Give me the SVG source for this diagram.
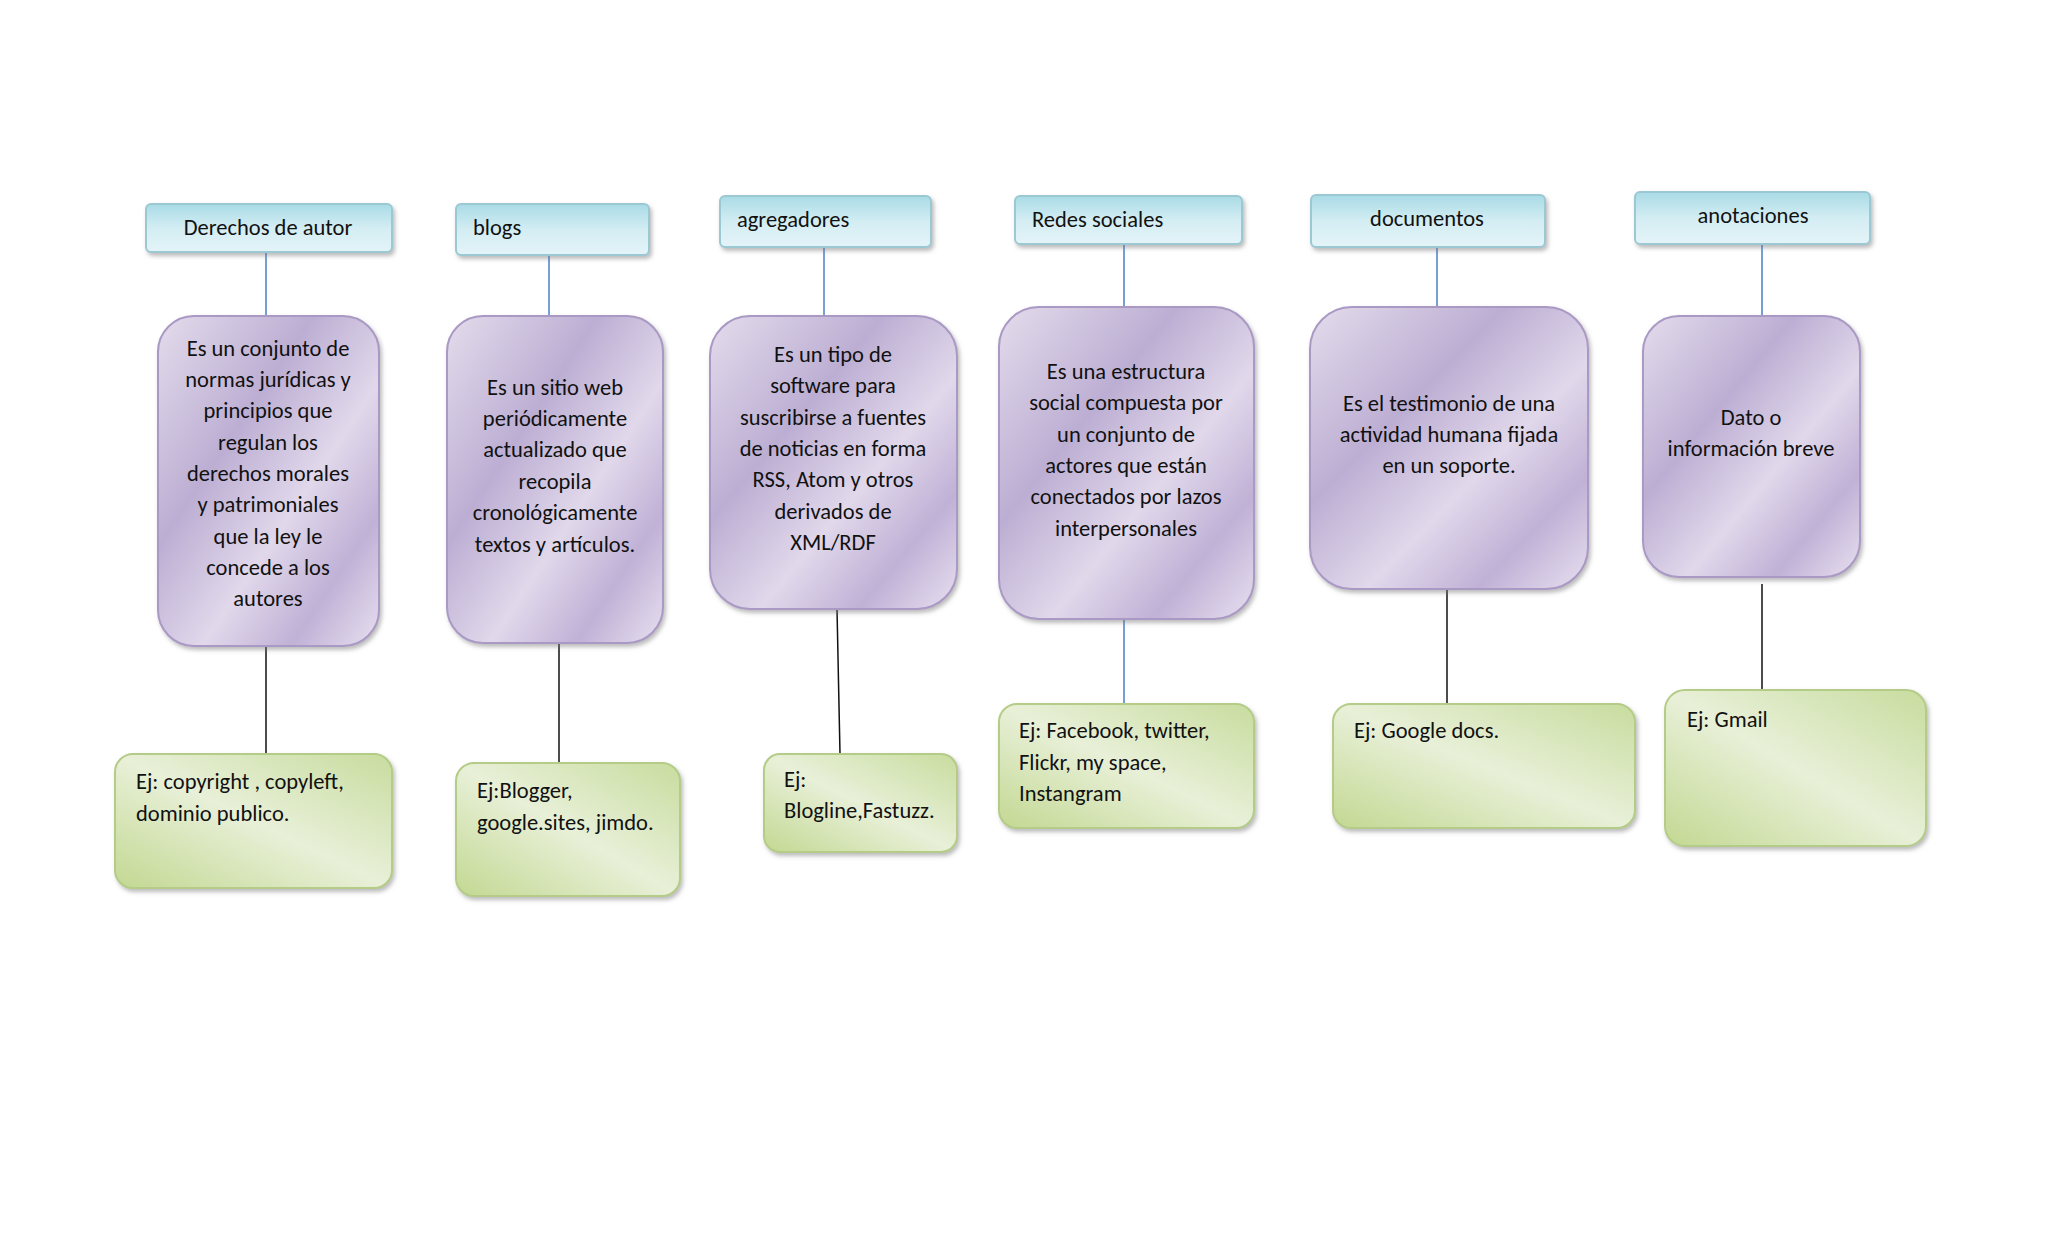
<svg xmlns="http://www.w3.org/2000/svg" width="2048" height="1243" viewBox="0 0 2048 1243">
<defs>
<linearGradient id="gH" x1="0" y1="0" x2="0" y2="1"><stop offset="0" stop-color="#a9dbe6"/><stop offset="0.5" stop-color="#d3edf3"/><stop offset="1" stop-color="#e4f4f8"/></linearGradient>
<linearGradient id="gP" x1="0" y1="0" x2="1" y2="1"><stop offset="0" stop-color="#e4dcec"/><stop offset="0.35" stop-color="#bcaed3"/><stop offset="0.6" stop-color="#e1d8eb"/><stop offset="0.8" stop-color="#c0b1d6"/><stop offset="1" stop-color="#e8e0f0"/></linearGradient>
<linearGradient id="gG" x1="0" y1="1" x2="1" y2="0"><stop offset="0" stop-color="#c3d892"/><stop offset="0.5" stop-color="#e8f0d8"/><stop offset="1" stop-color="#c8dc9e"/></linearGradient>
<filter id="sh" x="-10%" y="-10%" width="125%" height="125%"><feDropShadow dx="2" dy="3" stdDeviation="2" flood-color="#777" flood-opacity="0.5"/></filter>
</defs>
<style>
.h{fill:url(#gH);stroke:#9cc8d4;stroke-width:2;filter:url(#sh)}
.p{fill:url(#gP);stroke:#a999c4;stroke-width:2;filter:url(#sh)}
.g{fill:url(#gG);stroke:#b5cc88;stroke-width:2;filter:url(#sh)}
text{font-family:Carlito,"Open Sans","Liberation Sans",sans-serif;font-size:22.5px;fill:#111}
.c{text-anchor:middle}
.bl{stroke:#4a7fc8;stroke-width:1.5}
.bk{stroke:#111;stroke-width:1.5}
</style>
<rect width="2048" height="1243" fill="#fff"/>
<g id="connectors">
<line class="bl" x1="266" y1="252" x2="266" y2="326"/>
<line class="bl" x1="549" y1="255" x2="549" y2="322"/>
<line class="bl" x1="824" y1="247" x2="824" y2="318"/>
<line class="bl" x1="1124" y1="244" x2="1124" y2="318"/>
<line class="bl" x1="1437" y1="247" x2="1437" y2="318"/>
<line class="bl" x1="1762" y1="244" x2="1762" y2="316"/>
<line class="bk" x1="266" y1="646" x2="266" y2="754"/>
<line class="bk" x1="559" y1="643" x2="559" y2="763"/>
<line class="bk" x1="837" y1="609" x2="840" y2="754"/>
<line class="bl" x1="1124" y1="619" x2="1124" y2="704"/>
<line class="bk" x1="1447" y1="589" x2="1447" y2="704"/>
<line class="bk" x1="1762" y1="584" x2="1762" y2="690"/>
</g>
<g id="h1"><rect class="h" x="146" y="204" width="246" height="48" rx="5"/><text class="c" x="268" y="235">Derechos de autor</text></g>
<g id="h2"><rect class="h" x="456" y="204" width="193" height="51" rx="5"/><text x="473" y="235">blogs</text></g>
<g id="h3"><rect class="h" x="720" y="196" width="211" height="51" rx="5"/><text x="737" y="227">agregadores</text></g>
<g id="h4"><rect class="h" x="1015" y="196" width="227" height="48" rx="5"/><text x="1032" y="227">Redes sociales</text></g>
<g id="h5"><rect class="h" x="1311" y="195" width="234" height="52" rx="5"/><text class="c" x="1427" y="226">documentos</text></g>
<g id="h6"><rect class="h" x="1635" y="192" width="235" height="52" rx="5"/><text class="c" x="1753" y="223">anotaciones</text></g>
<g id="p1"><rect class="p" x="158" y="316" width="221" height="330" rx="36"/>
<text class="c" x="268"><tspan x="268" y="356">Es un conjunto de</tspan><tspan x="268" y="387">normas jurídicas y</tspan><tspan x="268" y="418">principios que</tspan><tspan x="268" y="450">regulan los</tspan><tspan x="268" y="481">derechos morales</tspan><tspan x="268" y="512">y patrimoniales</tspan><tspan x="268" y="544">que la ley le</tspan><tspan x="268" y="575">concede a los</tspan><tspan x="268" y="606">autores</tspan></text></g>
<g id="p2"><rect class="p" x="447" y="316" width="216" height="327" rx="36"/>
<text class="c"><tspan x="555" y="395">Es un sitio web</tspan><tspan x="555" y="426">periódicamente</tspan><tspan x="555" y="457">actualizado que</tspan><tspan x="555" y="489">recopila</tspan><tspan x="555" y="520">cronológicamente</tspan><tspan x="555" y="552">textos y artículos.</tspan></text></g>
<g id="p3"><rect class="p" x="710" y="316" width="247" height="293" rx="40"/>
<text class="c"><tspan x="833" y="362">Es un tipo de</tspan><tspan x="833" y="393">software para</tspan><tspan x="833" y="425">suscribirse a fuentes</tspan><tspan x="833" y="456">de noticias en forma</tspan><tspan x="833" y="487">RSS, Atom y otros</tspan><tspan x="833" y="519">derivados de</tspan><tspan x="833" y="550">XML/RDF</tspan></text></g>
<g id="p4"><rect class="p" x="999" y="307" width="255" height="312" rx="40"/>
<text class="c"><tspan x="1126" y="379">Es una estructura</tspan><tspan x="1126" y="410">social compuesta por</tspan><tspan x="1126" y="442">un conjunto de</tspan><tspan x="1126" y="473">actores que están</tspan><tspan x="1126" y="504">conectados por lazos</tspan><tspan x="1126" y="536">interpersonales</tspan></text></g>
<g id="p5"><rect class="p" x="1310" y="307" width="278" height="282" rx="42"/>
<text class="c"><tspan x="1449" y="411">Es el testimonio de una</tspan><tspan x="1449" y="442">actividad humana fijada</tspan><tspan x="1449" y="473">en un soporte.</tspan></text></g>
<g id="p6"><rect class="p" x="1643" y="316" width="217" height="261" rx="36"/>
<text class="c"><tspan x="1751" y="425">Dato o</tspan><tspan x="1751" y="456">información breve</tspan></text></g>
<g id="g1"><rect class="g" x="115" y="754" width="277" height="134" rx="18"/><text><tspan x="136" y="789">Ej: copyright , copyleft,</tspan><tspan x="136" y="821">dominio publico.</tspan></text></g>
<g id="g2"><rect class="g" x="456" y="763" width="224" height="133" rx="18"/><text><tspan x="477" y="798">Ej:Blogger,</tspan><tspan x="477" y="830">google.sites, jimdo.</tspan></text></g>
<g id="g3"><rect class="g" x="764" y="754" width="193" height="98" rx="16"/><text><tspan x="784" y="787">Ej:</tspan><tspan x="784" y="818">Blogline,Fastuzz.</tspan></text></g>
<g id="g4"><rect class="g" x="999" y="704" width="255" height="124" rx="18"/><text><tspan x="1019" y="738">Ej: Facebook, twitter,</tspan><tspan x="1019" y="770">Flickr, my space,</tspan><tspan x="1019" y="801">Instangram</tspan></text></g>
<g id="g5"><rect class="g" x="1333" y="704" width="302" height="124" rx="18"/><text x="1354" y="738">Ej: Google docs.</text></g>
<g id="g6"><rect class="g" x="1665" y="690" width="261" height="156" rx="20"/><text x="1687" y="727">Ej: Gmail</text></g>
</svg>
